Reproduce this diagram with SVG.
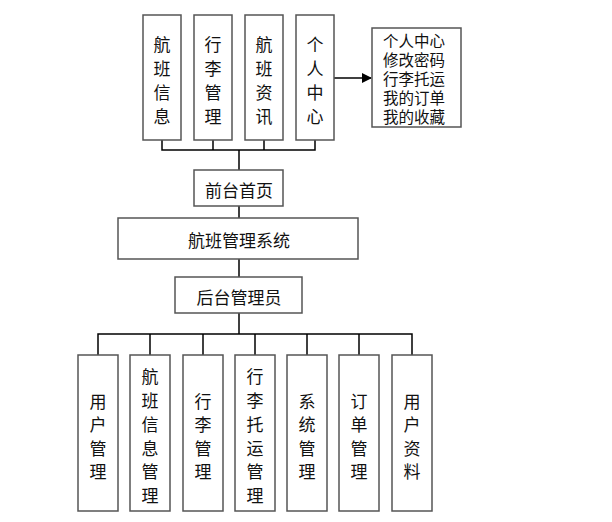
<svg xmlns="http://www.w3.org/2000/svg" width="612" height="522" viewBox="0 0 612 522">
<style>
rect{fill:#fff;stroke:#555;stroke-width:1.5}
text{font-family:"Noto Sans CJK SC",sans-serif;font-size:17px;fill:#111;text-anchor:middle;dominant-baseline:central}
.s{font-size:15.5px}
.c line,.c polyline{stroke:#000;stroke-width:1.5;fill:none}
</style>
<defs><marker id="a" markerWidth="10" markerHeight="10" refX="9" refY="5" orient="auto" markerUnits="userSpaceOnUse"><path d="M0,0L10,5L0,10z" fill="#000"/></marker></defs>
<rect x="0" y="0" width="612" height="522" style="stroke:none"/>
<g class="c">
<polyline points="162,140 162,150 315,150 315,140"/><line x1="213" y1="140" x2="213" y2="150"/><line x1="264" y1="140" x2="264" y2="150"/>
<line x1="239" y1="150" x2="239" y2="170"/><line x1="239" y1="206" x2="239" y2="218"/><line x1="239" y1="259" x2="239" y2="277"/><line x1="239" y1="313" x2="239" y2="334"/>
<polyline points="98,355 98,334 412,334 412,355"/>
<line x1="150" y1="334" x2="150" y2="355"/><line x1="203" y1="334" x2="203" y2="355"/><line x1="255" y1="334" x2="255" y2="355"/><line x1="307" y1="334" x2="307" y2="355"/><line x1="359" y1="334" x2="359" y2="355"/>
<line x1="334" y1="78" x2="371" y2="78" stroke-width="2.5" marker-end="url(#a)"/>
</g>
<g id="n1"><rect x="143" y="15" width="38" height="125"/><text x="162" y="43">航</text><text x="162" y="67">班</text><text x="162" y="91">信</text><text x="162" y="115">息</text></g>
<g id="n2"><rect x="194" y="15" width="38" height="125"/><text x="213" y="43">行</text><text x="213" y="67">李</text><text x="213" y="91">管</text><text x="213" y="115">理</text></g>
<g id="n3"><rect x="245" y="15" width="38" height="125"/><text x="264" y="43">航</text><text x="264" y="67">班</text><text x="264" y="91">资</text><text x="264" y="115">讯</text></g>
<g id="n4"><rect x="296" y="15" width="38" height="125"/><text x="315" y="43">个</text><text x="315" y="67">人</text><text x="315" y="91">中</text><text x="315" y="115">心</text></g>
<g id="n5"><rect x="372" y="28" width="89" height="99"/><text class="s" x="414" y="40">个人中心</text><text class="s" x="414" y="59">修改密码</text><text class="s" x="414" y="78">行李托运</text><text class="s" x="414" y="97">我的订单</text><text class="s" x="414" y="116">我的收藏</text></g>
<g id="n6"><rect x="194" y="170" width="89" height="36"/><text x="239" y="189">前台首页</text></g>
<g id="n7"><rect x="118" y="218" width="240" height="41"/><text x="239" y="239">航班管理系统</text></g>
<g id="n8"><rect x="175" y="277" width="127" height="36"/><text x="239" y="296">后台管理员</text></g>
<g id="b1"><rect x="78" y="355" width="40" height="156"/><text x="98" y="400">用</text><text x="98" y="423">户</text><text x="98" y="447">管</text><text x="98" y="470">理</text></g>
<g id="b2"><rect x="130" y="355" width="40" height="156"/><text x="150" y="375">航</text><text x="150" y="399">班</text><text x="150" y="423">信</text><text x="150" y="447">息</text><text x="150" y="470">管</text><text x="150" y="494">理</text></g>
<g id="b3"><rect x="183" y="355" width="40" height="156"/><text x="203" y="400">行</text><text x="203" y="423">李</text><text x="203" y="447">管</text><text x="203" y="470">理</text></g>
<g id="b4"><rect x="235" y="355" width="40" height="156"/><text x="255" y="375">行</text><text x="255" y="399">李</text><text x="255" y="423">托</text><text x="255" y="447">运</text><text x="255" y="470">管</text><text x="255" y="494">理</text></g>
<g id="b5"><rect x="287" y="355" width="40" height="156"/><text x="307" y="400">系</text><text x="307" y="423">统</text><text x="307" y="447">管</text><text x="307" y="470">理</text></g>
<g id="b6"><rect x="339" y="355" width="40" height="156"/><text x="359" y="400">订</text><text x="359" y="423">单</text><text x="359" y="447">管</text><text x="359" y="470">理</text></g>
<g id="b7"><rect x="392" y="355" width="40" height="156"/><text x="412" y="400">用</text><text x="412" y="423">户</text><text x="412" y="447">资</text><text x="412" y="470">料</text></g>
</svg>
